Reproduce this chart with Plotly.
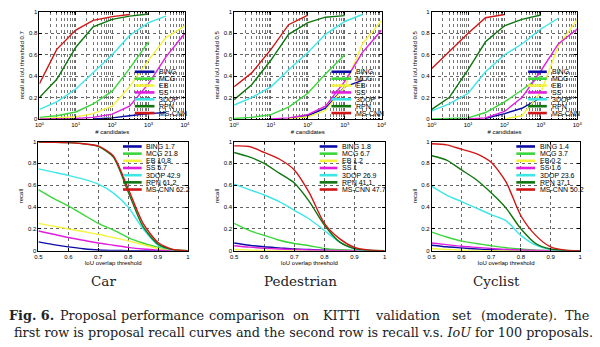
import plotly.graph_objects as go

W, H = 600, 347

METHODS = ["BING", "MCG", "EB", "SS", "3DOP", "RPN", "MS-CNN"]
COLORS = ["#0b0ba6", "#3bd63b", "#f4f43c", "#e01ee0", "#3ee6e6", "#0f760f", "#d01616"]

# number of candidate proposals (top row, log scale)
CANDIDATES = [1, 3, 10, 30, 100, 300, 1000, 3000, 10000]
# IoU overlap thresholds (bottom row)
IOU_THRESHOLDS = [0.5, 0.55, 0.6, 0.65, 0.7, 0.75, 0.8, 0.85, 0.9, 0.95, 1.0]

# recall vs. number of candidates
CAR_RECALL_CAND = {
    "BING":   [None, None, None, 0.0, 0.01, 0.03, 0.05, 0.06, None],
    "MCG":    [0.015, 0.03, 0.065, 0.14, 0.26, 0.47, 0.72, None, None],
    "EB":     [0.003, 0.008, 0.02, 0.05, 0.12, 0.3, 0.55, 0.76, 0.87],
    "SS":     [0.0, 0.002, 0.005, 0.015, 0.045, 0.12, 0.33, 0.58, 0.8],
    "3DOP":   [0.09, 0.16, 0.28, 0.43, 0.6, 0.78, 0.9, 0.96, None],
    "RPN":    [0.2, 0.37, 0.67, 0.86, 0.93, 0.96, 0.98, None, None],
    "MS-CNN": [0.33, 0.65, 0.83, 0.92, 0.955, 0.975, None, None, None],
}
PED_RECALL_CAND = {
    "BING":   [None, None, None, 0.005, 0.03, 0.1, 0.3, 0.36, None],
    "MCG":    [0.005, 0.015, 0.04, 0.11, 0.24, 0.42, 0.6, None, None],
    "EB":     [None, None, None, 0.0, 0.02, 0.08, 0.3, 0.7, 0.92],
    "SS":     [None, None, 0.0, 0.01, 0.04, 0.12, 0.35, 0.62, 0.83],
    "3DOP":   [0.13, 0.2, 0.3, 0.46, 0.62, 0.79, 0.91, 0.975, None],
    "RPN":    [0.18, 0.32, 0.55, 0.79, 0.9, 0.95, 0.965, None, None],
    "MS-CNN": [0.3, 0.43, 0.65, 0.88, 0.97, None, None, None, None],
}
CYC_RECALL_CAND = {
    "BING":   [None, None, None, 0.005, 0.05, 0.1, 0.2, None, None],
    "MCG":    [0.0, 0.002, 0.01, 0.06, 0.16, 0.27, 0.4, None, None],
    "EB":     [None, None, None, None, 0.0, 0.03, 0.25, 0.68, 0.93],
    "SS":     [None, None, 0.0, 0.01, 0.07, 0.2, 0.45, 0.7, 0.84],
    "3DOP":   [0.075, 0.14, 0.24, 0.44, 0.6, 0.7, 0.84, 0.94, None],
    "RPN":    [0.09, 0.2, 0.46, 0.72, 0.87, 0.93, 0.97, None, None],
    "MS-CNN": [0.47, 0.63, 0.8, 0.945, 0.975, None, None, None, None],
}

# recall vs. IoU overlap threshold for 100 proposals
CAR_RECALL_IOU = {
    "BING":   [0.08, 0.055, 0.035, 0.018, 0.006, 0.002, 0, 0, 0, 0, 0],
    "MCG":    [0.56, 0.48, 0.41, 0.33, 0.25, 0.19, 0.12, 0.07, 0.03, 0.005, 0],
    "EB":     [0.25, 0.225, 0.2, 0.175, 0.15, 0.12, 0.09, 0.055, 0.02, 0.003, 0],
    "SS":     [0.18, 0.15, 0.12, 0.095, 0.07, 0.05, 0.03, 0.015, 0.005, 0, 0],
    "3DOP":   [0.75, 0.72, 0.69, 0.655, 0.61, 0.53, 0.4, 0.2, 0.05, 0.005, 0],
    "RPN":    [0.995, 0.993, 0.99, 0.98, 0.955, 0.86, 0.54, 0.22, 0.06, 0.008, 0],
    "MS-CNN": [0.995, 0.993, 0.99, 0.98, 0.96, 0.87, 0.57, 0.25, 0.075, 0.01, 0],
}
PED_RECALL_IOU = {
    "BING":   [0.07, 0.05, 0.035, 0.025, 0.015, 0.01, 0.005, 0.002, 0, 0, 0],
    "MCG":    [0.25, 0.185, 0.14, 0.095, 0.065, 0.045, 0.02, 0.008, 0.002, 0, 0],
    "EB":     [0.01, 0.005, 0.002, 0.001, 0, 0, 0, 0, 0, 0, 0],
    "SS":     [0.045, 0.032, 0.022, 0.015, 0.01, 0.006, 0.003, 0.001, 0, 0, 0],
    "3DOP":   [0.61, 0.56, 0.51, 0.45, 0.37, 0.29, 0.185, 0.08, 0.015, 0, 0],
    "RPN":    [0.9, 0.86, 0.8, 0.71, 0.62, 0.45, 0.235, 0.08, 0.02, 0.003, 0],
    "MS-CNN": [0.96, 0.955, 0.9, 0.84, 0.74, 0.53, 0.25, 0.11, 0.03, 0.005, 0],
}
CYC_RECALL_IOU = {
    "BING":   [0.05, 0.035, 0.025, 0.015, 0.008, 0.004, 0.002, 0, 0, 0, 0],
    "MCG":    [0.17, 0.125, 0.087, 0.065, 0.045, 0.027, 0.015, 0.005, 0, 0, 0],
    "EB":     [0.02, 0.01, 0.004, 0.001, 0, 0, 0, 0, 0, 0, 0],
    "SS":     [0.07, 0.055, 0.04, 0.03, 0.02, 0.012, 0.006, 0.002, 0, 0, 0],
    "3DOP":   [0.59, 0.51, 0.45, 0.39, 0.33, 0.275, 0.14, 0.05, 0.008, 0, 0],
    "RPN":    [0.87, 0.83, 0.74, 0.65, 0.53, 0.39, 0.2, 0.065, 0.015, 0.002, 0],
    "MS-CNN": [0.98, 0.97, 0.93, 0.89, 0.81, 0.63, 0.32, 0.14, 0.035, 0.005, 0],
}

# average recall shown next to each method in the bottom-row legends
CAR_AVG_RECALL = [1.7, 21.8, 10.8, 5.7, 42.9, 61.2, 62.2]
PED_AVG_RECALL = [1.8, 6.7, 1.2, 1, 26.9, 41.1, 47.7]
CYC_AVG_RECALL = [1.4, 3.7, 0.2, 1.6, 23.6, 37.1, 50.2]

CATEGORIES = ["Car", "Pedestrian", "Cyclist"]
# the first caption line is justified, so its words are placed one by one
CAPTION_1_WORDS = ["<b>Fig. 6.</b>", "Proposal", "performance", "comparison", "on", "KITTI",
                   "validation", "set", "(moderate).", "The"]
CAPTION_1_CENTERS = [27, 85, 160.5, 246, 301.5, 342.5, 409, 465, 522.5, 581.5]
CAPTION_2 = "first row is proposal recall curves and the second row is recall v.s. <i>IoU</i> for 100 proposals."


def px(x):
    return x / W


def py(y):
    return 1 - y / H


SANS = "Liberation Sans, Arial, sans-serif"
SERIF = "DejaVu Serif, serif"

panels = [
    dict(data=CAR_RECALL_CAND, top=True, box=(35, 183, 9, 118), ytitle="recall at IoU threshold 0.7",
         leg=(132, 152, 155, 70, 7.0), labels=METHODS),
    dict(data=PED_RECALL_CAND, top=True, box=(233, 383, 9, 118), ytitle="recall at IoU threshold 0.5",
         leg=(332, 352, 355, 70, 7.0), labels=METHODS),
    dict(data=CYC_RECALL_CAND, top=True, box=(434, 582, 9, 118), ytitle="recall at IoU threshold 0.5",
         leg=(532, 551, 554, 70, 7.0), labels=METHODS),
    dict(data=CAR_RECALL_IOU, top=False, box=(34, 186, 141, 252), ytitle="recall",
         leg=(120, 139, 141, 146, 7.3), labels=[f"{m} {v:g}" for m, v in zip(METHODS, CAR_AVG_RECALL)]),
    dict(data=PED_RECALL_IOU, top=False, box=(233, 386, 141, 252), ytitle="recall",
         leg=(320, 338, 341, 146, 7.3), labels=[f"{m} {v:g}" for m, v in zip(METHODS, PED_AVG_RECALL)]),
    dict(data=CYC_RECALL_IOU, top=False, box=(434, 585, 141, 252), ytitle="recall",
         leg=(520, 539, 542, 146, 7.3), labels=[f"{m} {v:g}" for m, v in zip(METHODS, CYC_AVG_RECALL)]),
]

GRID = dict(showgrid=True, gridcolor="#666666", gridwidth=0.6, griddash="dot")
AXIS = dict(showline=True, linecolor="black", linewidth=0.8, mirror="allticks", ticks="inside",
            ticklen=3, tickcolor="black", tickwidth=0.7, zeroline=False,
            tickfont=dict(family=SANS, size=6, color="black"))

minor_log = [m * 10 ** d for d in range(4) for m in range(2, 10)]

fig = go.Figure()
shapes = []
annotations = []
layout_axes = {}

for i, p in enumerate(panels, start=1):
    sfx = "" if i == 1 else str(i)
    xa, ya = "x" + sfx, "y" + sfx
    x0, x1, y0, y1 = p["box"]
    xs = CANDIDATES if p["top"] else IOU_THRESHOLDS
    shape = "linear" if p["top"] else "spline"

    for m, c in zip(METHODS, COLORS):
        line = dict(color=c, width=1.4, shape=shape)
        if shape == "spline":
            line["smoothing"] = 0.7
        fig.add_trace(go.Scatter(
            x=xs, y=p["data"][m], mode="lines", name=m, showlegend=False,
            line=line, xaxis=xa, yaxis=ya, cliponaxis=True,
        ))

    if p["top"]:
        xaxis = dict(type="log", range=[0, 4],
                     tickvals=[1, 10, 100, 1000, 10000],
                     ticktext=[f"10<sup>{k}</sup>" for k in range(5)],
                     minor=dict(tickvals=minor_log, ticks="inside", ticklen=1.5, tickcolor="black",
                                showgrid=True, gridcolor="#777777", gridwidth=0.6, griddash="dot"),
                     title=dict(text="# candidates", font=dict(family=SANS, size=6, color="black"), standoff=2))
    else:
        xaxis = dict(range=[0.5, 1], tickvals=[0.5, 0.6, 0.7, 0.8, 0.9, 1.0],
                     ticktext=["0.5", "0.6", "0.7", "0.8", "0.9", "1"],
                     title=dict(text="IoU overlap threshold", font=dict(family=SANS, size=6, color="black"), standoff=2))
    xaxis.update(AXIS)
    xaxis.update(GRID)
    xaxis.update(domain=[px(x0), px(x1)], anchor=ya)

    yaxis = dict(range=[0, 1], tickvals=[0, 0.2, 0.4, 0.6, 0.8, 1.0],
                 ticktext=["0", "0.2", "0.4", "0.6", "0.8", "1"],
                 title=dict(text=p["ytitle"], font=dict(family=SANS, size=6, color="black"), standoff=3))
    yaxis.update(AXIS)
    yaxis.update(GRID)
    yaxis.update(domain=[py(y1), py(y0)], anchor=xa)

    layout_axes["xaxis" + sfx] = xaxis
    layout_axes["yaxis" + sfx] = yaxis

    # legend drawn inside each panel
    lx0, lx1, tx, ly0, dy = p["leg"]
    for k, (lab, c) in enumerate(zip(p["labels"], COLORS)):
        yy = ly0 + k * dy
        shapes.append(dict(type="line", xref="paper", yref="paper",
                           x0=px(lx0), x1=px(lx1), y0=py(yy), y1=py(yy),
                           line=dict(color=c, width=2.6), layer="above"))
        annotations.append(dict(text=lab, xref="paper", yref="paper", x=px(tx), y=py(yy),
                                xanchor="left", yanchor="middle", showarrow=False,
                                font=dict(family=SANS, size=7, color="black")))

# category names under each column
for name, cx in zip(CATEGORIES, [100, 300, 500]):
    annotations.append(dict(text=name, xref="paper", yref="paper", x=px(cx), y=py(283),
                            xanchor="center", yanchor="middle", showarrow=False,
                            font=dict(family=SERIF, size=13.5, color="#222")))

# figure caption
cap_font = dict(family=SERIF, size=12.8, color="#222")
for word, cx in zip(CAPTION_1_WORDS, CAPTION_1_CENTERS):
    annotations.append(dict(text=word, xref="paper", yref="paper", x=px(cx), y=py(318.5),
                            xanchor="center", yanchor="middle", showarrow=False, font=cap_font))
annotations.append(dict(text=CAPTION_2, xref="paper", yref="paper", x=px(7), y=py(335),
                        xanchor="left", yanchor="middle", showarrow=False, font=cap_font))

fig.update_layout(
    width=W, height=H, margin=dict(l=0, r=0, t=0, b=0),
    paper_bgcolor="white", plot_bgcolor="white",
    showlegend=False, shapes=shapes, annotations=annotations,
    **layout_axes,
)

fig.write_html("out.html")
